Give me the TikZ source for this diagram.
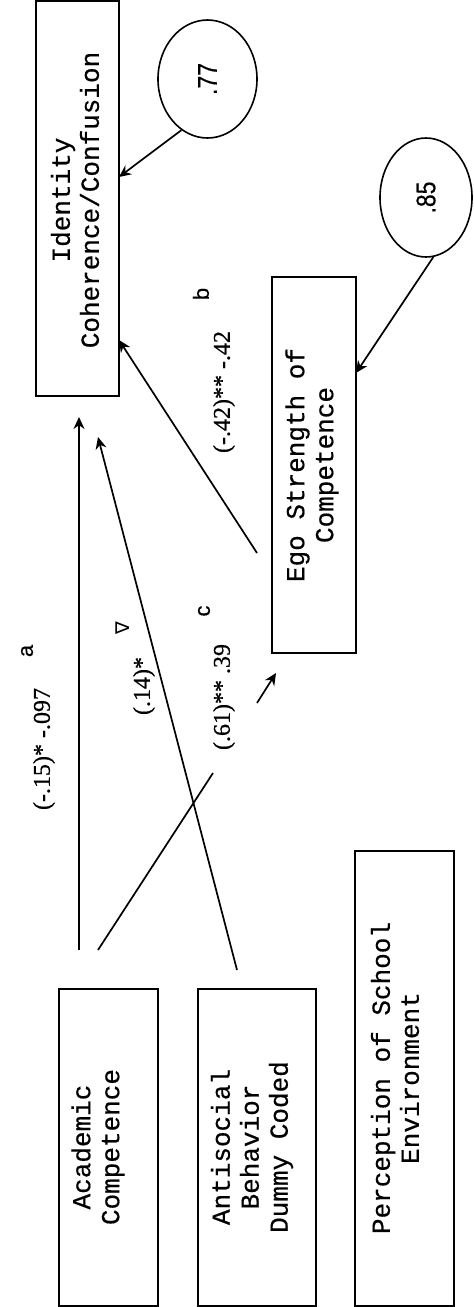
\documentclass[tikz,border=0pt]{standalone}
\usepackage{fontspec}
\setmainfont[FakeBold=0.6]{Liberation Serif}
\newfontfamily\boxfont[FakeBold=0.5]{Liberation Mono}
\newfontfamily\letterfont[FakeBold=0.4]{Liberation Sans}
\newfontfamily\numfont[FakeBold=0.4,FakeStretch=0.85]{Liberation Sans}
\newfontfamily\symbfont{DejaVu Sans}
\usepackage{graphicx}
\usetikzlibrary{arrows.meta,shapes.geometric}
\begin{document}
\begin{tikzpicture}[x=1pt,y=-1pt,
  box/.style={draw, line width=1.9pt, rotate=90, inner sep=0pt},
  boxtext/.style={rotate=90, align=center, inner sep=0pt, font=\boxfont\fontsize{26}{29}\selectfont},
  coef/.style={rotate=90, inner sep=0pt, font=\fontsize{24}{28}\selectfont},
  tag/.style={rotate=90, inner sep=0pt, font=\letterfont\fontsize{22}{26}\selectfont},
  err/.style={ellipse, draw, line width=1.6pt, inner sep=0pt, font=\numfont\fontsize{27}{30}\selectfont},
  link/.style={line width=1.7pt},
  arr/.style={link, -{Stealth[length=12pt,width=11pt]}},
]
\useasboundingbox (0,0) rectangle (474,1307);

% boxes
\node[box, minimum width=395pt, minimum height=83pt] (id) at (77.5,198.5) {};
\node[box, minimum width=376pt, minimum height=84pt] (ego) at (314,465) {};
\node[box, minimum width=317pt, minimum height=99pt] (acad) at (108.5,1147.5) {};
\node[box, minimum width=317pt, minimum height=118pt] (anti) at (257,1147.5) {};
\node[box, minimum width=455pt, minimum height=99pt] (perc) at (404.5,1078.5) {};

% box texts
\node[boxtext] (idt) at (75,200) {Identity\\Coherence/Confusion};
\node[boxtext] (egot) at (312,465) {Ego Strength of\\Competence};
\node[boxtext] (acadt) at (98,1147) {Academic\\Competence};
\node[boxtext] (antit) at (252,1147) {Antisocial\\Behavior\\Dummy Coded};
\node[boxtext] (perct) at (395,1078) {Perception of School\\Environment};

% error terms
\node[err, minimum width=99pt, minimum height=118pt] (e77) at (207.5,79) {\rotatebox{90}{.77}};
\node[err, minimum width=92pt, minimum height=119pt] (e85) at (426,197.5) {\rotatebox{90}{.85}};

% connector end points
\coordinate (idA) at (79,417);
\coordinate (acadA) at (79,950);
\coordinate (idD) at (98,437);
\coordinate (antiD) at (237,970);
\coordinate (acadC) at (98,950);
\coordinate (cGapA) at (213,773);
\coordinate (cGapB) at (257,703);
\coordinate (egoC) at (276,673);
\coordinate (egoOut) at (257,553);
\coordinate (idB) at (119,340);
\coordinate (idE) at (119,177);
\coordinate (egoE) at (356,373);

% connectors
\draw[arr] (acadA) -- (idA);
\draw[arr] (antiD) -- (idD);
\draw[link] (acadC) -- (cGapA);
\draw[arr] (cGapB) -- (egoC);
\draw[arr] (egoOut) -- (idB);
\draw[arr] (e77.243) -- (idE);
\draw[arr] (e85.277) -- (egoE);

% labels
\node[tag] (la) at (27,651) {a};
\node[coef] (ca) at (44,749) {(-.15)* -.097};
\node[rotate=90, inner sep=0pt, font=\symbfont\fontsize{19}{22}\selectfont] (ld) at (123,628) {∇};
\node[coef] (cd) at (144,686) {(.14)*};
\node[tag] (lc) at (204,611) {c};
\node[coef] (cc) at (224,697) {(.61)** .39};
\node[tag] (lb) at (201,294) {b};
\node[coef] (cb) at (224,392) {(-.42)** -.42};
\end{tikzpicture}
\end{document}
